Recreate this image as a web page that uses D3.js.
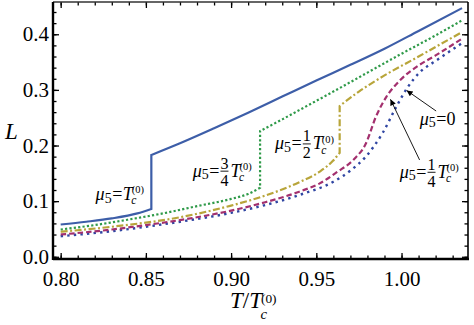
<!DOCTYPE html>
<html><head><meta charset="utf-8">
<script src="https://cdn.jsdelivr.net/npm/d3@7"></script>
<style>
html,body{margin:0;padding:0;background:#fff;}
</style></head>
<body>
<svg id="c" width="474" height="325"></svg>
<script>
// ---- data ----
const xTicks = [0.80, 0.85, 0.90, 0.95, 1.00];
const xTickLabels = ["0.80", "0.85", "0.90", "0.95", "1.00"];
const yTicks = [0.0, 0.1, 0.2, 0.3, 0.4];
const yTickLabels = ["0.0", "0.1", "0.2", "0.3", "0.4"];

// mu5 = Tc : lower branch then upper branch (first-order jump)
const muTcLower = [[0.80,0.058],[0.815,0.063],[0.83,0.069],[0.845,0.078],[0.8532,0.086]];
const muTcUpper = [[0.8532,0.183],[0.87,0.204],[0.89,0.231],[0.91,0.259],[0.93,0.288],[0.95,0.317],[0.97,0.345],[0.99,0.374],[1.01,0.406],[1.0355,0.447]];
// mu5 = 3/4 Tc
const mu34Lower = [[0.80,0.049],[0.82,0.057],[0.84,0.067],[0.86,0.078],[0.88,0.091],[0.90,0.104],[0.91,0.113],[0.917,0.124]];
const mu34Upper = [[0.917,0.226],[0.93,0.247],[0.945,0.272],[0.96,0.297],[0.98,0.331],[1.00,0.365],[1.02,0.398],[1.0355,0.425]];
// mu5 = 1/2 Tc
const mu12Lower = [[0.80,0.045],[0.83,0.054],[0.87,0.071],[0.90,0.092],[0.92,0.110],[0.94,0.134],[0.952,0.153],[0.9596,0.172],[0.9637,0.187]];
const mu12Upper = [[0.9637,0.271],[0.975,0.297],[0.99,0.326],[1.01,0.360],[1.0355,0.404]];
// mu5 = 1/4 Tc (smooth crossover)
const mu14 = [[0.80,0.040],[0.83,0.049],[0.85,0.057],[0.87,0.066],[0.90,0.083],[0.92,0.098],[0.94,0.117],[0.952,0.132],[0.962,0.152],[0.972,0.175],[0.979,0.203],[0.985,0.252],[0.991,0.287],[0.999,0.317],[1.0086,0.341],[1.02,0.362],[1.0355,0.392]];
// mu5 = 0
const mu0 = [[0.80,0.037],[0.83,0.046],[0.85,0.054],[0.87,0.063],[0.90,0.079],[0.92,0.093],[0.94,0.111],[0.96,0.135],[0.97,0.155],[0.979,0.180],[0.989,0.223],[0.997,0.270],[1.003,0.302],[1.0105,0.331],[1.02,0.352],[1.0355,0.384]];

// ---- layout ----
const FONT = "Liberation Serif";
const svg = d3.select("#c").attr("font-family", FONT);
const L = 53, R = 468, T = 2, B = 259;
const xs = d3.scaleLinear().domain([0.7955, 1.039]).range([L, R]);
const ys = d3.scaleLinear().domain([-0.004, 0.458]).range([B, T]);

const defs = svg.append("defs");
defs.append("clipPath").attr("id","clip")
  .append("rect").attr("x",L).attr("y",T).attr("width",R-L).attr("height",B-T);

const line = d3.line().x(d=>xs(d[0])).y(d=>ys(d[1])).curve(d3.curveMonotoneX);
function jumpPath(lo, up){
  return line(lo) + "L" + line(up).slice(1);
}

const g = svg.append("g").attr("clip-path","url(#clip)");
const series = [
  {d: jumpPath(muTcLower, muTcUpper), c:"#3d5ea8", dash:null, w:2.2},
  {d: line(mu0), c:"#2f45a2", dash:"2.4,4.2", w:2.4},
  {d: line(mu14), c:"#a3306e", dash:"5.5,3", w:2.2},
  {d: jumpPath(mu12Lower, mu12Upper), c:"#b8a53a", dash:"7,2.5,2,2.5", w:2.2},
  {d: jumpPath(mu34Lower, mu34Upper), c:"#2f9a49", dash:"2.2,2.2", w:2.2},
];
series.forEach(s=>{
  g.append("path").attr("d", s.d).attr("fill","none")
   .attr("stroke", s.c).attr("stroke-width", s.w)
   .attr("stroke-dasharray", s.dash);
});

// ---- axes (inward ticks on all four sides) ----
const xMinor = d3.range(0.80, 1.0351, 0.01);
const yMinor = d3.range(0.0, 0.4501, 0.02);
function styleAx(sel){
  sel.attr("font-family", FONT).attr("font-size", 21);
  sel.select(".domain").remove();
  sel.selectAll("line").attr("stroke","#000").attr("stroke-width",1.3);
  sel.selectAll("text").attr("fill","#000").attr("font-family", FONT).attr("font-size",21);
}
// bottom
svg.append("g").attr("transform",`translate(0,${B})`)
  .call(d3.axisBottom(xs).tickValues(xMinor).tickSize(-3.5).tickFormat("")).call(styleAx);
svg.append("g").attr("transform",`translate(0,${B})`)
  .call(d3.axisBottom(xs).tickValues(xTicks).tickSize(-6).tickPadding(12)
        .tickFormat((d,i)=>xTickLabels[i])).call(styleAx);
// top
svg.append("g").attr("transform",`translate(0,${T})`)
  .call(d3.axisTop(xs).tickValues(xMinor).tickSize(-3.5).tickFormat("")).call(styleAx);
svg.append("g").attr("transform",`translate(0,${T})`)
  .call(d3.axisTop(xs).tickValues(xTicks).tickSize(-6).tickFormat("")).call(styleAx);
// left
svg.append("g").attr("transform",`translate(${L},0)`)
  .call(d3.axisLeft(ys).tickValues(yMinor).tickSize(-3.5).tickFormat("")).call(styleAx);
svg.append("g").attr("transform",`translate(${L},0)`)
  .call(d3.axisLeft(ys).tickValues(yTicks).tickSize(-6).tickPadding(4)
        .tickFormat((d,i)=>yTickLabels[i])).call(styleAx);
// right
svg.append("g").attr("transform",`translate(${R},0)`)
  .call(d3.axisRight(ys).tickValues(yMinor).tickSize(-3.5).tickFormat("")).call(styleAx);
svg.append("g").attr("transform",`translate(${R},0)`)
  .call(d3.axisRight(ys).tickValues(yTicks).tickSize(-6).tickFormat("")).call(styleAx);

// frame
svg.append("line").attr("x1",L).attr("x2",R).attr("y1",T).attr("y2",T).attr("stroke","#333").attr("stroke-width",1.6);
svg.append("line").attr("x1",R).attr("x2",R).attr("y1",T).attr("y2",B).attr("stroke","#000").attr("stroke-width",1.6);
svg.append("line").attr("x1",L).attr("x2",R+1).attr("y1",B).attr("y2",B).attr("stroke","#000").attr("stroke-width",2.4);
svg.append("line").attr("x1",L).attr("x2",L).attr("y1",T).attr("y2",B+1).attr("stroke","#000").attr("stroke-width",2.4);

// ---- axis titles ----
function txt(parent, x, y, size, s, italic){
  const t = parent.append("text").attr("x",x).attr("y",y).attr("font-family",FONT).attr("font-size",size).text(s);
  if (italic) t.attr("font-style","italic");
  return t;
}
txt(svg, 5, 139, 23, "L", true);
function scripts(parent, x, y, fs, subDy, supDy){
  txt(parent, x-1.5, y+fs*subDy, fs*0.64, "c", true);
  txt(parent, x-1, y-fs*supDy, fs*0.58, "(0)", false);
}
{
  const xt = svg.append("text").attr("x",230).attr("y",308).attr("font-family",FONT).attr("font-size",23);
  xt.append("tspan").attr("font-style","italic").text("T");
  xt.append("tspan").text("/");
  xt.append("tspan").attr("font-style","italic").text("T");
  scripts(svg, 230 + xt.node().getComputedTextLength(), 308, 23, 0.48, 0.22);
}

// ---- annotations ----
function mathLabel(px, py, frac){
  const grp = svg.append("g");
  const t = grp.append("text").attr("x",px).attr("y",py).attr("font-family",FONT).attr("font-size",18);
  t.append("tspan").attr("font-style","italic").text("μ");
  t.append("tspan").attr("dy",2.5).attr("font-size",14).text("5");
  t.append("tspan").attr("dy",-2.5).attr("dx",0.5).text(frac === "0" ? "=0" : "=");
  if (frac === "0") return;
  let x = px + t.node().getComputedTextLength() + 1;
  if (frac){
    const cx = x + 4.5;
    txt(grp, cx, py-8, 16, frac[0], false).attr("text-anchor","middle");
    grp.append("line").attr("x1",cx-4).attr("x2",cx+4).attr("y1",py-5.5).attr("y2",py-5.5).attr("stroke","#000").attr("stroke-width",0.9);
    txt(grp, cx, py+9, 16, frac[1], false).attr("text-anchor","middle");
    x = cx + 6;
  }
  const tt = txt(grp, x, py, 18, "T", true);
  scripts(grp, x + tt.node().getComputedTextLength(), py, 18, 0.24, 0.38);
}
mathLabel(xs(0.8205), ys(0.102), null);
mathLabel(xs(0.8775), ys(0.144), ["3","4"]);
mathLabel(xs(0.9258), ys(0.193), ["1","2"]);
mathLabel(xs(0.9990), ys(0.142), ["1","4"]);
mathLabel(xs(1.0107), ys(0.237), "0");

// arrows
defs.append("marker").attr("id","ah").attr("viewBox","0 0 10 10").attr("refX",10).attr("refY",5)
  .attr("markerWidth",10).attr("markerHeight",6).attr("orient","auto").attr("markerUnits","userSpaceOnUse")
  .append("path").attr("d","M0,0 L10,5 L0,10 z").attr("fill","#000");
function arrow(x1,y1,x2,y2){
  svg.append("line").attr("x1",xs(x1)).attr("y1",ys(y1)).attr("x2",xs(x2)).attr("y2",ys(y2))
    .attr("stroke","#000").attr("stroke-width",0.9).attr("marker-end","url(#ah)");
}
arrow(1.0203, 0.262, 1.0030, 0.299);
arrow(1.0106, 0.174, 0.9935, 0.283);
</script>
</body></html>
